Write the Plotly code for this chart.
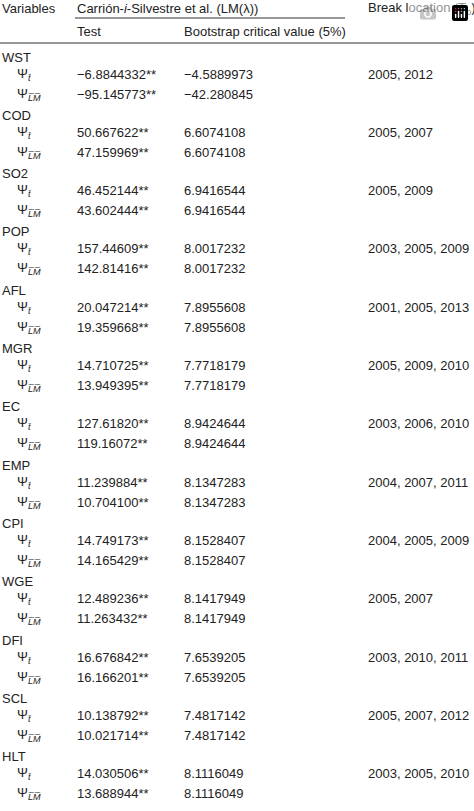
import plotly.graph_objects as go

variables = ["WST","COD","SO2","POP","AFL","MGR","EC","EMP","CPI","WGE","DFI","SCL","HLT"]
test_t = ["\u22126.8844332**","50.667622**","46.452144**","157.44609**","20.047214**","14.710725**","127.61820**","11.239884**","14.749173**","12.489236**","16.676842**","10.138792**","14.030506**"]
test_lm = ["\u221295.145773**","47.159969**","43.602444**","142.81416**","19.359668**","13.949395**","119.16072**","10.704100**","14.165429**","11.263432**","16.166201**","10.021714**","13.688944**"]
crit_t = ["\u22124.5889973","6.6074108","6.9416544","8.0017232","7.8955608","7.7718179","8.9424644","8.1347283","8.1528407","8.1417949","7.6539205","7.4817142","8.1116049"]
crit_lm = ["\u221242.280845","6.6074108","6.9416544","8.0017232","7.8955608","7.7718179","8.9424644","8.1347283","8.1528407","8.1417949","7.6539205","7.4817142","8.1116049"]
breaks = ["2005, 2012","2005, 2007","2005, 2009","2003, 2005, 2009","2001, 2005, 2013","2005, 2009, 2010","2003, 2006, 2010","2004, 2007, 2011","2004, 2005, 2009","2005, 2007","2003, 2010, 2011","2005, 2007, 2012","2003, 2005, 2010"]

FONT = dict(family="Liberation Sans, Arial, sans-serif", size=13, color="#222")
fig = go.Figure()
ann = []
def t(x, y, s):
    ann.append(dict(x=x, y=y, text=s, xref="x", yref="y", showarrow=False,
                    xanchor="left", yanchor="middle", font=FONT))

t(0, 8, "Variables")
t(75, 8, "Carri\u00f3n-<i>i</i>-Silvestre et al. (LM(\u03bb))")
t(366, 8, "Break location (T<sub>b</sub>)")
t(75, 31, "Test")
t(182, 31, "Bootstrap critical value (5%)")

psi_t = "\u03a8<sub><i>t\u0304</i></sub>"
psi_lm = "\u03a8<sub><i>L\u0305M\u0305</i></sub>"
for i, v in enumerate(variables):
    y0 = 57 + i * 58.3
    t(0, y0, v)
    t(15, y0 + 17, psi_t)
    t(15, y0 + 37, psi_lm)
    t(75, y0 + 17, test_t[i])
    t(75, y0 + 37, test_lm[i])
    t(182, y0 + 17, crit_t[i])
    t(182, y0 + 37, crit_lm[i])
    t(366, y0 + 17, breaks[i])

shapes = [
    dict(type="line", xref="x", yref="y", x0=75, x1=345, y0=18, y1=18, line=dict(color="#333", width=1)),
    dict(type="line", xref="x", yref="y", x0=0, x1=474, y0=43, y1=43, line=dict(color="#333", width=1)),
]
fig.update_layout(width=474, height=811, margin=dict(l=0, r=0, t=0, b=0),
                  paper_bgcolor="white", plot_bgcolor="white",
                  annotations=ann, shapes=shapes, showlegend=False,
                  xaxis=dict(range=[0, 474], visible=False, fixedrange=True),
                  yaxis=dict(range=[811, 0], visible=False, fixedrange=True))
fig.write_html("out.html", post_script="document.body.style.margin='0';document.body.style.overflow='hidden';")
